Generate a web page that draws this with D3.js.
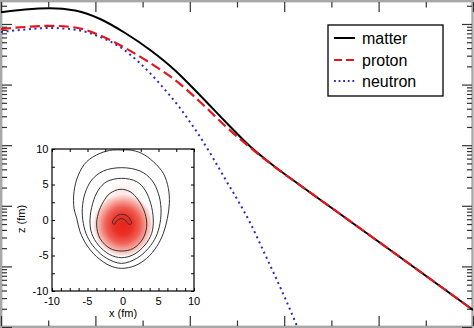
<!DOCTYPE html>
<html><head><meta charset="utf-8">
<script src="https://cdn.jsdelivr.net/npm/d3@7"></script>
<style>
body{margin:0;background:#fff}
svg{display:block}
text{font-family:"Liberation Sans",Arial,Helvetica,sans-serif;fill:#000}
</style>
</head><body>
<svg id="c" width="474" height="328"></svg>
<script>
// ---------- data (r in fm, density in fm^-3) ----------
const matterR   = [0, 0.51, 1.04, 1.57, 2.10, 2.63, 3.16, 3.69, 4.22, 4.75, 5.28, 5.81, 6.33, 6.86, 7.39, 8.45, 10.0];
const matterRho = [0.156, 0.1735, 0.1816, 0.167, 0.1209, 0.0710, 0.0372, 0.0171, 0.00661, 0.00246, 9.52e-4, 4.37e-4, 2.20e-4, 1.11e-4, 5.61e-5, 1.43e-5, 1.91e-6];
const protonR   = [0, 0.51, 1.04, 1.57, 2.10, 2.63, 3.16, 3.69, 4.22, 4.75, 5.28, 5.81, 6.33, 6.86, 7.39, 8.45, 10.0];
const protonRho = [0.0827, 0.0892, 0.0934, 0.0876, 0.0646, 0.0402, 0.0227, 0.0119, 0.00516, 0.00207, 9.16e-4, 4.32e-4, 2.20e-4, 1.11e-4, 5.61e-5, 1.43e-5, 1.91e-6];
const neutronR   = [0, 0.51, 1.04, 1.61, 2.10, 2.52, 2.94, 3.37, 3.79, 4.22, 4.75, 5.28, 5.59, 5.97, 6.27, 6.44];
const neutronRho = [0.0738, 0.0811, 0.0859, 0.0796, 0.0610, 0.0417, 0.0227, 0.0102, 0.00411, 0.00136, 2.77e-4, 5.20e-5, 1.60e-5, 3.64e-6, 1.04e-6, 4.86e-7];
const seriesNames = ["matter", "proton", "neutron"];

const xMajorTicks = [0, 2, 4, 6, 8, 10];
const xMinorTicks = [1, 3, 5, 7, 9];
const yDecades = [1e-6, 1e-5, 1e-4, 1e-3, 1e-2, 1e-1];

// inset: contour lines of the 2D density (x, z in fm)
const contour1 = [[-1.50,-0.33],[-0.89,0.56],[-0.19,0.80],[0.61,0.56],[1.22,-0.47],[0.85,-0.61],[0.28,0.0],[-0.28,0.19],[-0.89,-0.14],[-1.22,-0.61]];
const contour2 = [[-0.42,4.32],[-1.83,3.75],[-2.77,2.58],[-3.47,0.94],[-3.71,-0.71],[-3.24,-2.59],[-1.83,-4.0],[-0.19,-4.37],[1.46,-4.0],[2.77,-2.68],[3.33,-0.94],[3.10,0.94],[2.16,2.81],[0.99,3.99]];
const contour3 = [[-0.19,5.87],[-2.30,5.40],[-3.47,4.22],[-4.27,2.34],[-4.65,0.0],[-4.41,-1.88],[-3.47,-3.52],[-1.92,-4.84],[-0.19,-5.31],[1.55,-4.84],[3.10,-3.52],[4.04,-1.88],[4.27,0.0],[3.90,2.34],[3.10,4.22],[1.93,5.40]];
const contour4 = [[-0.19,7.37],[-2.77,6.90],[-4.41,5.63],[-5.35,3.75],[-5.73,1.64],[-5.59,-0.47],[-5.02,-2.35],[-3.94,-3.99],[-2.30,-5.40],[-0.19,-6.11],[1.93,-5.40],[3.57,-3.99],[4.65,-2.35],[5.21,-0.47],[5.35,1.64],[4.98,3.75],[4.04,5.63],[2.40,6.90]];
const contour5 = [[-0.19,9.86],[-1.45,9.86],[-3.24,9.39],[-5.12,8.21],[-6.29,6.33],[-6.90,3.99],[-6.90,1.64],[-6.52,0.23],[-6.05,-1.65],[-5.12,-3.52],[-3.71,-5.17],[-1.83,-6.44],[-0.19,-6.81],[1.69,-6.44],[3.33,-5.40],[4.74,-3.76],[5.68,-1.88],[6.25,0.23],[6.53,2.34],[6.39,4.46],[5.68,6.57],[4.27,8.21],[2.63,9.39],[0.99,9.86]];
const contours = [contour1, contour2, contour3, contour4, contour5];
const coreCentre = [0, -0.7];   // fm
const coreRadius = [4.4, 4.6];  // fm
const insetTicksMain = [-10, -5, 0, 5, 10];

// ---------- drawing ----------
const svg = d3.select("#c");
const defs = svg.append("defs");
const x = d3.scaleLinear().domain([0, 10]).range([1, 473]);
const y = d3.scaleLog().domain([1e-6, 0.2395]).range([327, 1]);

defs.append("clipPath").attr("id", "plotClip").append("rect")
  .attr("x", 1).attr("y", 1).attr("width", 472).attr("height", 326);

// frame
svg.append("rect").attr("x", 1.2).attr("y", 1.2).attr("width", 471.3).attr("height", 325.6)
  .attr("fill", "none").attr("stroke", "#a8a8a8").attr("stroke-width", 2.4);

function styleAxis(g){ g.select(".domain").remove(); g.selectAll(".tick line").attr("stroke","#333").attr("stroke-width",1.2); g.selectAll(".tick text").remove(); }

svg.append("g").attr("transform","translate(0,2)").call(d3.axisTop(x).tickValues(xMajorTicks).tickSize(-10).tickFormat("")).call(styleAxis);
svg.append("g").attr("transform","translate(0,2)").call(d3.axisTop(x).tickValues(xMinorTicks).tickSize(-5.5).tickFormat("")).call(styleAxis);
svg.append("g").attr("transform","translate(0,326)").call(d3.axisBottom(x).tickValues(xMajorTicks).tickSize(-10).tickFormat("")).call(styleAxis);
svg.append("g").attr("transform","translate(0,326)").call(d3.axisBottom(x).tickValues(xMinorTicks).tickSize(-5.5).tickFormat("")).call(styleAxis);

const yMinor = [];
yDecades.forEach(d => { for (let k = 2; k <= 9; k++) { const v = d * k; if (v <= y.domain()[1]) yMinor.push(v); } });
svg.append("g").attr("transform","translate(2,0)").call(d3.axisLeft(y).tickValues(yDecades).tickSize(-10).tickFormat("")).call(styleAxis);
svg.append("g").attr("transform","translate(2,0)").call(d3.axisLeft(y).tickValues(yMinor).tickSize(-5).tickFormat("")).call(styleAxis);
svg.append("g").attr("transform","translate(472,0)").call(d3.axisRight(y).tickValues(yDecades).tickSize(-10).tickFormat("")).call(styleAxis);
svg.append("g").attr("transform","translate(472,0)").call(d3.axisRight(y).tickValues(yMinor).tickSize(-5).tickFormat("")).call(styleAxis);

const line = d3.line().x(d => x(d[0])).y(d => y(d[1])).curve(d3.curveMonotoneX);
const zip = (a, b) => a.map((v, i) => [v, b[i]]);
const curves = svg.append("g").attr("clip-path", "url(#plotClip)");
const styles = {
  matter:  {stroke:"#000", w:2.0, dash:null},
  proton:  {stroke:"#e3151c", w:2.2, dash:"10,4.5"},
  neutron: {stroke:"#2b2bc4", w:2.0, dash:"2,3.6"}
};
const dataBy = {matter: zip(matterR, matterRho), proton: zip(protonR, protonRho), neutron: zip(neutronR, neutronRho)};
["neutron", "matter", "proton"].forEach(n => {
  curves.append("path").datum(dataBy[n]).attr("d", line).attr("fill", "none")
    .attr("stroke", styles[n].stroke).attr("stroke-width", styles[n].w)
    .attr("stroke-dasharray", styles[n].dash);
});

// legend
const lg = svg.append("g");
lg.append("rect").attr("x", 328).attr("y", 25).attr("width", 115).attr("height", 71)
  .attr("fill", "#fff").attr("stroke", "#000").attr("stroke-width", 1.3);
const legendY = [38, 60, 81];
const legendDash = {matter:null, proton:"8,4", neutron:"1.8,2.8"};
seriesNames.forEach((n, i) => {
  lg.append("line").attr("x1", 334).attr("x2", 355).attr("y1", legendY[i]).attr("y2", legendY[i])
    .attr("stroke", styles[n].stroke).attr("stroke-width", n === "neutron" ? 1.8 : 2)
    .attr("stroke-dasharray", legendDash[n]);
  lg.append("text").attr("x", 362).attr("y", legendY[i] + 5.5).attr("font-size", 16).text(n);
});

// ---------- inset ----------
const ix = d3.scaleLinear().domain([-10, 10]).range([52, 194]);
const iz = d3.scaleLinear().domain([-10, 10]).range([291, 149]);
const inset = svg.append("g");
inset.append("rect").attr("x", 52).attr("y", 149).attr("width", 142).attr("height", 142).attr("fill", "#fff");
defs.append("clipPath").attr("id", "insetClip").append("rect").attr("x", 52).attr("y", 149).attr("width", 142).attr("height", 142);

const g1 = defs.append("radialGradient").attr("id", "core");
[[0, "#e8241c", 1], [0.3, "#ea3027", 1], [0.55, "#ef5f55", 1], [0.75, "#f6a59c", 1], [0.9, "#fbd9d4", 1], [1, "#ffffff", 0]]
  .forEach(s => g1.append("stop").attr("offset", s[0]).attr("stop-color", s[1]).attr("stop-opacity", s[2]));
const g2 = defs.append("radialGradient").attr("id", "halo");
[[0, "#f6b3ab", 0.7], [0.6, "#f9d0ca", 0.4], [1, "#ffffff", 0]]
  .forEach(s => g2.append("stop").attr("offset", s[0]).attr("stop-color", s[1]).attr("stop-opacity", s[2]));

const heat = inset.append("g").attr("clip-path", "url(#insetClip)");
heat.append("ellipse").attr("cx", ix(0)).attr("cy", iz(1.8))
  .attr("rx", ix(3.2) - ix(0)).attr("ry", iz(0) - iz(4.2)).attr("fill", "url(#halo)");
heat.append("ellipse").attr("cx", ix(coreCentre[0])).attr("cy", iz(coreCentre[1]))
  .attr("rx", ix(coreRadius[0]) - ix(0)).attr("ry", iz(0) - iz(coreRadius[1])).attr("fill", "url(#core)");

const cline = d3.line().x(d => ix(d[0])).y(d => iz(d[1])).curve(d3.curveCatmullRomClosed.alpha(0.5));
heat.selectAll("path.ct").data(contours).join("path").attr("class", "ct")
  .attr("d", cline).attr("fill", "none").attr("stroke", "#333").attr("stroke-width", 1);

inset.append("rect").attr("x", 52).attr("y", 149).attr("width", 142).attr("height", 142)
  .attr("fill", "none").attr("stroke", "#000").attr("stroke-width", 1.2);

function insetTicks(g){ g.select(".domain").remove(); g.selectAll(".tick line").attr("stroke","#000").attr("stroke-width",1); g.selectAll(".tick text").remove(); }
const t25 = d3.range(-10, 10.01, 2.5), t125 = d3.range(-10, 10.01, 1.25);
inset.append("g").attr("transform","translate(0,149)").call(d3.axisTop(ix).tickValues(t25).tickSize(-3)).call(insetTicks);
inset.append("g").attr("transform","translate(0,291)").call(d3.axisBottom(ix).tickValues(t125).tickSize(-3)).call(insetTicks);
inset.append("g").attr("transform","translate(52,0)").call(d3.axisLeft(iz).tickValues(t25).tickSize(-3)).call(insetTicks);
inset.append("g").attr("transform","translate(194,0)").call(d3.axisRight(iz).tickValues(t25).tickSize(-3)).call(insetTicks);

insetTicksMain.forEach(v => {
  inset.append("text").attr("x", 48.5).attr("y", iz(v)).attr("dy", "0.36em").attr("text-anchor", "end").attr("font-size", 11).text(v);
  inset.append("text").attr("x", ix(v)).attr("y", 305).attr("text-anchor", "middle").attr("font-size", 11).text(v);
});
inset.append("text").attr("x", ix(0)).attr("y", 317).attr("text-anchor", "middle").attr("font-size", 11).text("x (fm)");
inset.append("text").attr("transform", "translate(25,219) rotate(-90)").attr("text-anchor", "middle").attr("font-size", 11).text("z (fm)");
</script>
</body></html>
